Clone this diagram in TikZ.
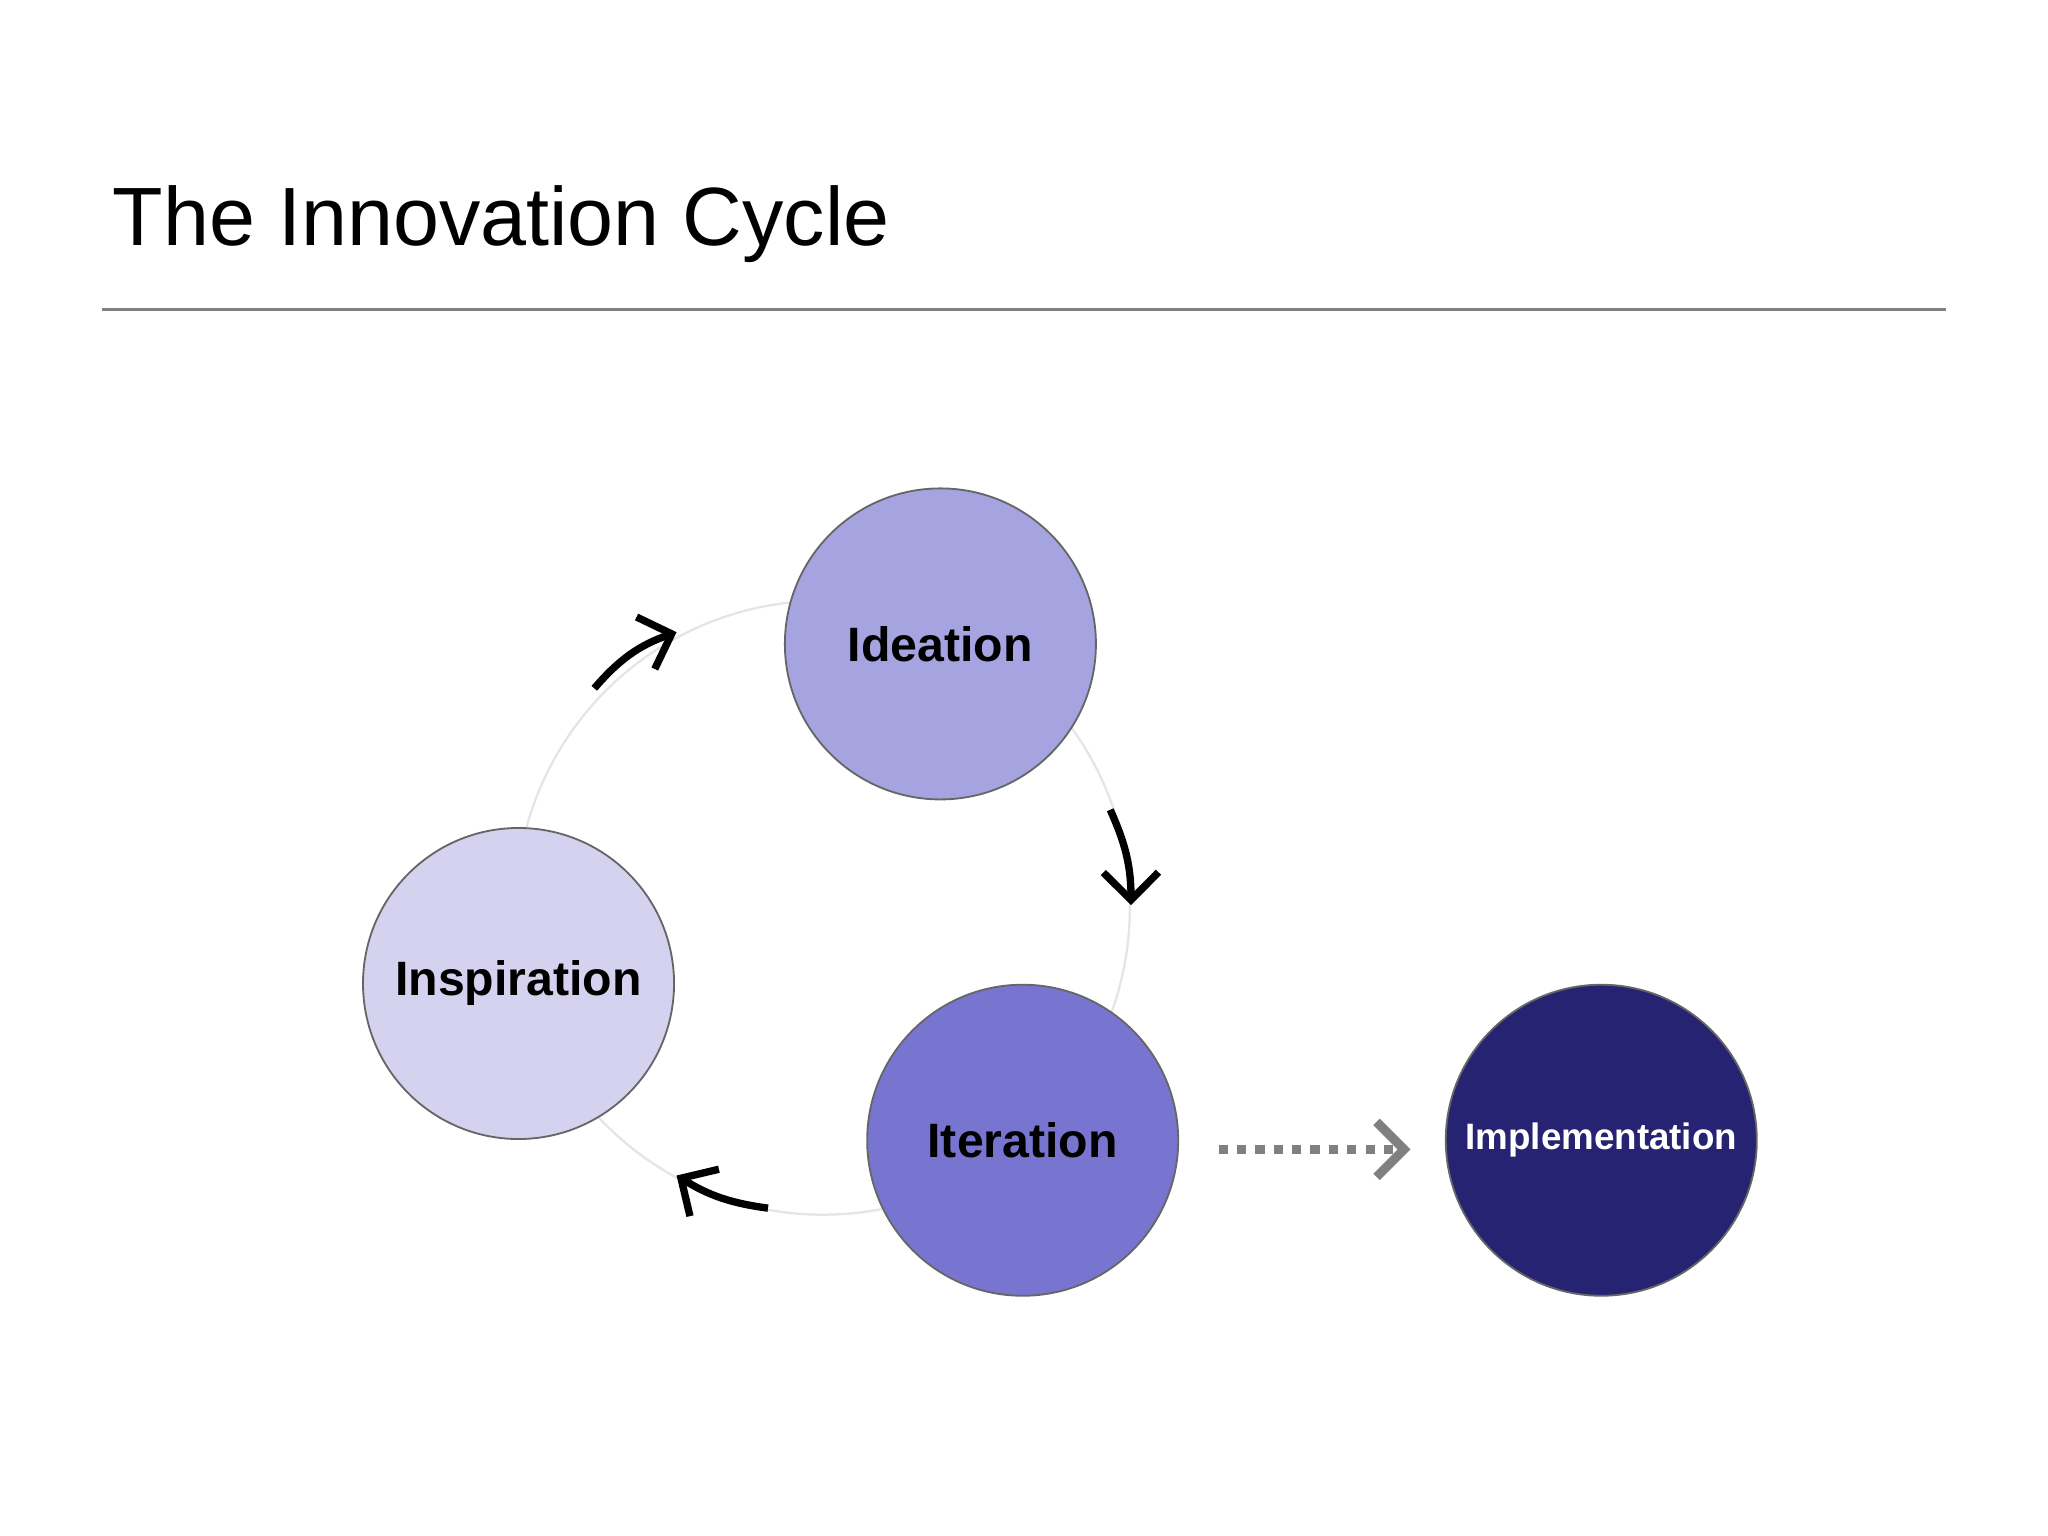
\documentclass[tikz,border=0pt]{standalone}
\usepackage{fontspec}
\setmainfont{Liberation Sans}
\usetikzlibrary{positioning, arrows.meta}
\definecolor{ideacol}{HTML}{A5A3E0}
\definecolor{inspcol}{HTML}{D5D2F0}
\definecolor{itercol}{HTML}{7775D0}
\definecolor{implcol}{HTML}{262472}
\begin{document}
\begin{tikzpicture}[
      x=0.01cm, y=-0.01cm,
      stage/.style={
        circle,
        draw=black!60,
        minimum size=2.38cm,
        inner sep=0pt,
        font=\fontsize{10.5}{12}\selectfont\bfseries,
        align=center
      },
      cyclearrow/.style={draw, line width=1.6pt, -{Straight Barb[length=6pt,width=12pt]}},
      >={Stealth}
    ]
    \useasboundingbox (0,0) rectangle (1568,1176);
    \node[anchor=base west, font=\fontsize{18}{22}\selectfont] (title) at (74,188) {The Innovation Cycle};
    \draw[black!50, line width=0.6pt] (78,237) -- (1490,237);

    % faint cycle ring
    \draw[black!10, line width=0.5pt] (630,695) circle (235);

    \node[stage, fill=ideacol] (idea) at (720,493) {Ideation};
    \node[stage, fill=inspcol] (insp) at (397,753) {Inspiration};
    \node[stage, fill=itercol] (iter) at (783,873) {Iteration};
    \node[stage, fill=implcol, text=white, font=\fontsize{8}{10}\selectfont\bfseries] (impl) at (1226,873) {Implementation};

    \coordinate (a1) at (455,527);
    \coordinate (a2) at (518,484);
    \coordinate (b1) at (850,620);
    \coordinate (b2) at (866,693);
    \coordinate (c1) at (588,925);
    \coordinate (c2) at (518,900);
    \coordinate (d1) at (933,880);
    \coordinate (d2) at (1080,880);

    \draw[cyclearrow] (a1) to[bend left=15] (a2);
    \draw[cyclearrow] (b1) to[bend left=12] (b2);
    \draw[cyclearrow] (c1) to[bend left=12] (c2);
    \draw[black!50, line width=2pt, dash pattern=on 2pt off 2pt,
          -{Straight Barb[length=6pt,width=12pt]}] (d1) -- (d2);
  \end{tikzpicture}
\end{document}
